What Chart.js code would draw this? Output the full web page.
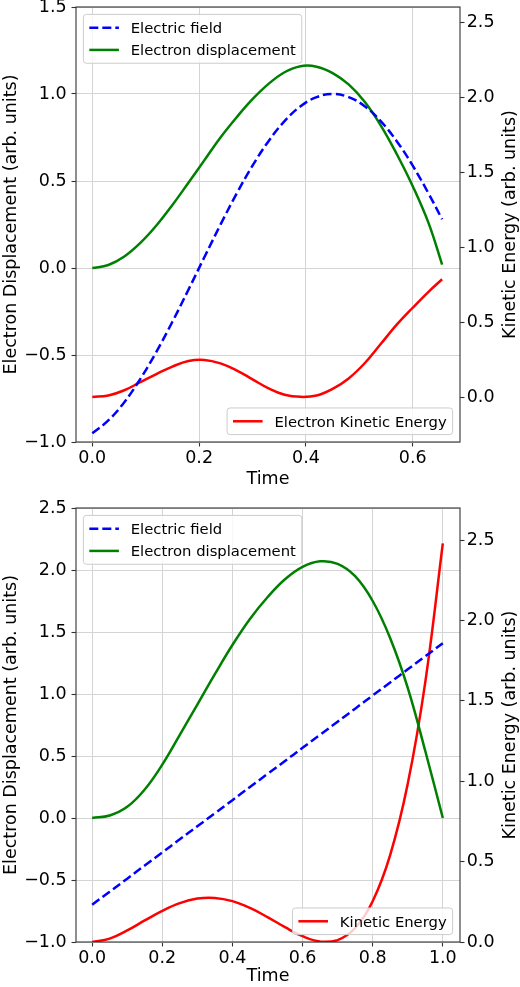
<!DOCTYPE html>
<html><head><meta charset="utf-8">
<script src="https://cdn.jsdelivr.net/npm/chart.js@4/dist/chart.umd.min.js"></script>
<style>
html,body{margin:0;padding:0;background:#fff;}
#wrap{position:relative;width:520px;height:987px;overflow:hidden;}
canvas{position:absolute;left:0;}
</style></head><body>
<div id="wrap">
<canvas id="c1" width="520" height="490" style="top:0px"></canvas>
<canvas id="c2" width="520" height="492" style="top:495px"></canvas>
</div>
<script>
// ---- data: top panel ----
const time1  = [0,0.03,0.06,0.09,0.12,0.15,0.18,0.21,0.24,0.27,0.30,0.33,0.36,0.39,0.42,0.45,0.48,0.51,0.54,0.57,0.60,0.63,0.655];
const field1 = [-0.95,-0.876,-0.771,-0.637,-0.482,-0.309,-0.125,0.063,0.249,0.426,0.588,0.729,0.844,0.93,0.982,1.0,0.982,0.93,0.844,0.729,0.588,0.426,0.28];
const disp1  = [0,0.017,0.066,0.144,0.244,0.362,0.49,0.62,0.75,0.865,0.97,1.058,1.125,1.16,1.157,1.12,1.055,0.955,0.82,0.655,0.47,0.255,0.02];
const ke1    = [0,0.01,0.045,0.099,0.153,0.203,0.24,0.247,0.224,0.178,0.118,0.058,0.015,0.001,0.01,0.054,0.124,0.225,0.353,0.482,0.595,0.703,0.785];
// ---- data: bottom panel ----
const time2  = [0,0.05,0.1,0.15,0.2,0.25,0.3,0.35,0.4,0.45,0.5,0.55,0.6,0.65,0.7,0.75,0.8,0.85,0.9,0.95,1.0];
const field2 = [-0.70,-0.594,-0.489,-0.383,-0.278,-0.172,-0.067,0.038,0.144,0.25,0.355,0.46,0.566,0.671,0.777,0.882,0.988,1.093,1.199,1.304,1.41];
const disp2  = [0,0.02,0.09,0.23,0.43,0.67,0.915,1.16,1.395,1.605,1.78,1.925,2.025,2.07,2.05,1.95,1.75,1.45,1.05,0.54,0];
const ke2    = [0,0.021,0.072,0.134,0.194,0.242,0.27,0.274,0.254,0.212,0.155,0.092,0.036,0.003,0.012,0.087,0.254,0.542,0.984,1.617,2.48];
// ---- ticks & labels ----
const xTicks1 = [0,0.2,0.4,0.6];
const xTicks2 = [0,0.2,0.4,0.6,0.8,1.0];
const yTicks1 = [-1,-0.5,0,0.5,1,1.5];
const yTicks2 = [-1,-0.5,0,0.5,1,1.5,2,2.5];
const keTicks1 = [0,0.5,1,1.5,2,2.5];
const keTicks2 = [0,0.5,1,1.5,2,2.5];
const labels1 = ['Electric field','Electron displacement','Electron Kinetic Energy'];
const labels2 = ['Electric field','Electron displacement','Kinetic Energy'];
const xTitle = 'Time';
const yTitle = 'Electron Displacement (arb. units)';
const y2Title = 'Kinetic Energy (arb. units)';

const FONT = 'DejaVu Sans';
const TICK = 17.5, LEG = 14.8;
const fmt = v => (v < 0 ? '\u2212' : '') + Math.abs(v).toFixed(1);

const mplPlugin = {
  id: 'mplPlugin',
  afterDatasetsDraw(chart, args, opts) {
    const ctx = chart.ctx, a = chart.chartArea;
    ctx.save();
    ctx.strokeStyle = '#333'; ctx.lineWidth = 1.1; ctx.setLineDash([]);
    ctx.strokeRect(a.left, a.top, a.right - a.left, a.bottom - a.top);
    const f = LEG, pad = 0.4*f, hl = 2*f, htp = 0.8*f, ls = 0.5*f, bap = 0.5*f, rowH = f;
    ctx.font = f + 'px "' + FONT + '"';
    for (const g of opts.groups) {
      const items = g.items.map(i => chart.data.datasets[i]);
      const tw = Math.max(...items.map(d => ctx.measureText(d.label).width));
      const w = pad*2 + hl + htp + tw;
      const h = pad*2 + rowH*items.length + ls*(items.length - 1);
      let x0, y0;
      if (g.loc === 'upper left') { x0 = a.left + bap; y0 = a.top + bap; }
      else { x0 = a.right - bap - w; y0 = a.bottom - bap - h; }
      ctx.beginPath();
      ctx.roundRect(x0, y0, w, h, 3);
      ctx.fillStyle = 'rgba(255,255,255,0.8)'; ctx.fill();
      ctx.strokeStyle = '#cccccc'; ctx.lineWidth = 1; ctx.stroke();
      items.forEach((d, k) => {
        const cy = y0 + pad + rowH/2 + k*(rowH + ls);
        ctx.beginPath();
        ctx.setLineDash(d.borderDash || []);
        ctx.strokeStyle = d.borderColor; ctx.lineWidth = d.borderWidth;
        ctx.moveTo(x0 + pad, cy); ctx.lineTo(x0 + pad + hl, cy); ctx.stroke();
        ctx.setLineDash([]);
        ctx.fillStyle = '#000'; ctx.textAlign = 'left'; ctx.textBaseline = 'alphabetic';
        ctx.fillText(d.label, x0 + pad + hl + htp, cy + 0.729*f/2);
      });
    }
    ctx.translate(chart.width - 5, (a.top + a.bottom)/2);
    ctx.rotate(-Math.PI/2);
    ctx.font = TICK + 'px "' + FONT + '"';
    ctx.fillStyle = '#000'; ctx.textAlign = 'center'; ctx.textBaseline = 'alphabetic';
    ctx.fillText(opts.rightTitle, 0, 0);
    ctx.restore();
  }
};

function makeChart(id, o) {
  const el = document.getElementById(id);
  const ds = (label, t, v, color, dash, axis) => ({
    label, data: t.map((x, i) => ({x, y: v[i]})), borderColor: color, backgroundColor: color,
    borderDash: dash, borderWidth: 2.5, pointRadius: 0, yAxisID: axis,
    tension: 0.4, fill: false
  });
  const tickFont = {family: FONT, size: TICK};
  const titleFont = {family: FONT, size: TICK, lineHeight: 1.15};
  const grid = {color: '#d4d4d4', lineWidth: 1, tickColor: '#333', tickLength: 4.5, tickWidth: 1.1};
  return new Chart(el, {
    type: 'line',
    data: {datasets: [
      ds(o.labels[0], o.time, o.field, '#0000ff', [9, 4], 'y'),
      ds(o.labels[1], o.time, o.disp, '#008000', [], 'y'),
      ds(o.labels[2], o.time, o.ke, '#ff0000', [], 'y2')
    ]},
    options: {
      responsive: false, animation: false,
      layout: {padding: {top: o.top, left: 0, right: 0, bottom: 0}},
      plugins: {
        legend: {display: false}, tooltip: {enabled: false},
        mplPlugin: {groups: [{items: [0, 1], loc: 'upper left'}, {items: [2], loc: 'lower right'}], rightTitle: y2Title}
      },
      scales: {
        x: {
          type: 'linear', position: 'bottom', min: o.xMin, max: o.xMax,
          afterBuildTicks: s => { s.ticks = o.xTicks.map(v => ({value: v})); },
          afterFit: s => { s.height = o.xH; s.paddingLeft = 0; s.paddingRight = 0; },
          ticks: {callback: fmt, font: tickFont, color: '#000', padding: 1, maxRotation: 0, autoSkip: false},
          grid: grid, border: {display: false},
          title: {display: true, text: xTitle, font: titleFont, color: '#000', padding: 0}
        },
        y: {
          type: 'linear', position: 'left', min: o.yMin, max: o.yMax,
          afterBuildTicks: s => { s.ticks = o.yTicks.map(v => ({value: v})); },
          afterFit: s => { s.width = 76; s.paddingTop = 0; s.paddingBottom = 0; },
          ticks: {callback: fmt, font: tickFont, color: '#000', padding: 4.8, autoSkip: false},
          grid: grid, border: {display: false},
          title: {display: true, text: yTitle, font: titleFont, color: '#000', padding: {top: 1, bottom: 0}}
        },
        y2: {
          type: 'linear', position: 'right', min: o.kMin, max: o.kMax,
          afterBuildTicks: s => { s.ticks = o.kTicks.map(v => ({value: v})); },
          afterFit: s => { s.width = 60; s.paddingTop = 0; s.paddingBottom = 0; },
          ticks: {callback: fmt, font: tickFont, color: '#000', padding: 2.2, autoSkip: false},
          grid: Object.assign({}, grid, {drawOnChartArea: false}), border: {display: false},
          title: {display: false}
        }
      }
    },
    plugins: [mplPlugin]
  });
}

makeChart('c1', {
  time: time1, field: field1, disp: disp1, ke: ke1, labels: labels1,
  xMin: -0.0305, xMax: 0.6885, xTicks: xTicks1,
  yMin: -1.0, yMax: 1.5, yTicks: yTicks1,
  kMin: -0.3, kMax: 2.6, kTicks: keTicks1,
  top: 7, xH: 48
});
makeChart('c2', {
  time: time2, field: field2, disp: disp2, ke: ke2, labels: labels2,
  xMin: -0.046, xMax: 1.049, xTicks: xTicks2,
  yMin: -1.0, yMax: 2.5, yTicks: yTicks2,
  kMin: 0, kMax: 2.7, kTicks: keTicks2,
  top: 13, xH: 45
});
</script>
</body></html>
